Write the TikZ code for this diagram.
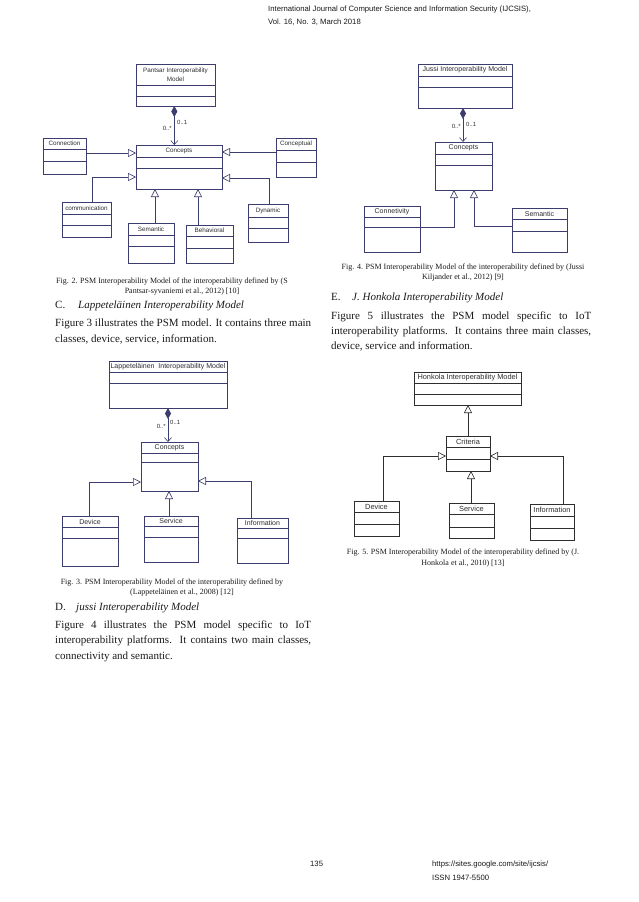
\documentclass[tikz,border=0pt]{standalone}
\usepackage{fontspec}
\setmainfont{Liberation Serif}
\newfontfamily\arialf{Liberation Sans}
\usetikzlibrary{arrows.meta}
\definecolor{umlc}{HTML}{3C3C6E}
\definecolor{umlk}{HTML}{2E2E2E}
\definecolor{txt}{HTML}{1A1A1A}
\def\clsfs{6.3}
\tikzset{
  cls/.style={draw=umlc, line width=0.6pt, inner sep=0pt, outer sep=0pt, fill=white},
  clstext/.style={font=\arialf\fontsize{\clsfs}{8.5}\selectfont, text=umlk, inner sep=0pt, align=center},
  gen/.style={draw=umlc, line width=0.6pt, -{Triangle[open, length=8pt, width=8pt, fill=white]}},
  genk/.style={gen, draw=umlk},
  comp/.style={draw=umlc, line width=0.6pt, {Diamond[length=11pt, width=6pt, fill=umlc]}-{Straight Barb[length=4pt, width=7pt]}},
  mult/.style={font=\arialf\fontsize{6}{7}\selectfont, text=umlk, inner sep=0pt},
  body/.style={font=\fontsize{11}{15.5}\selectfont, text=txt, inner sep=0pt, anchor=base west},
  figcap/.style={font=\fontsize{8}{10}\selectfont, text=txt, inner sep=0pt, anchor=base},
  hdr/.style={font=\arialf\fontsize{7.7}{10}\selectfont, text=txt, inner sep=0pt, anchor=base west},
}
% #1 colour, #2 name, #3 x1, #4 y1, #5 x2, #6 y2, #7 divider1, #8 divider2, #9 title
\newcommand\umlclass[9][umlc]{%
  \node[cls, draw=#1, minimum width={(#5-#3)*1pt}, minimum height={(#6-#4)*1pt}, anchor=north west] (#2) at (#3,#4) {};
  \draw[draw=#1, line width=0.6pt] (#3,#7) -- (#5,#7) (#3,#8) -- (#5,#8);
  \node[clstext] (#2-t) at ({(#3+#5)/2},{(#4+#7)/2}) {#9};
}
\begin{document}
\begin{tikzpicture}[x=1pt, y=-1pt]
\useasboundingbox[fill=white] (0,0) rectangle (638,902);

% ---------------- header / footer
\node[hdr] (h1) at (268,11) {International Journal of Computer Science and Information Security (IJCSIS),};
\node[hdr] (h2) at (268,24) {Vol. 16, No. 3, March 2018};
\node[hdr] (pg) at (310,866) {135};
\node[hdr] (url) at (432,866) {https://sites.google.com/site/ijcsis/};
\node[hdr] (issn) at (432,880) {ISSN 1947-5500};

% ---------------- Fig. 2
\def\clsfs{6.3}
\umlclass{p2top}{136}{64}{215}{106}{85}{96}{}
\node[clstext] (p2top-t2) at (175.5,74.5) {Pantsar Interoperability\\Model};
\umlclass{p2conc}{136}{145}{222}{189}{157}{168}{Concepts}
\umlclass{p2conn}{43}{138}{86}{174}{149}{161}{Connection}
\umlclass{p2comm}{62}{202}{111}{237}{214}{225}{communication}
\umlclass{p2sem}{128}{223}{174}{263}{235}{246}{Semantic}
\umlclass{p2beh}{186}{225}{233}{263}{236}{248}{Behavioral}
\umlclass{p2dyn}{248}{204}{288}{242}{217}{228}{Dynamic}
\umlclass{p2cpt}{276}{138}{316}{177}{150}{162}{Conceptual}
\coordinate (f2x) at (174.3,0);
\draw[comp] (p2top.south -| f2x) -- (p2conc.north -| f2x);
\node[mult, anchor=west] (f2m1) at (177,122) {0..1};
\node[mult, anchor=east] (f2m2) at (172,128) {0..*};
\coordinate (f2a) at (0,153);
\draw[gen] (p2conn.east |- f2a) -- (p2conc.west |- f2a);
\coordinate (f2b) at (92,177);
\draw[gen] (p2comm.north -| f2b) -- (f2b) -- (p2conc.west |- f2b);
\coordinate (f2c) at (155,0);
\draw[gen] (p2sem.north -| f2c) -- (p2conc.south -| f2c);
\coordinate (f2d) at (198,0);
\draw[gen] (p2beh.north -| f2d) -- (p2conc.south -| f2d);
\coordinate (f2e) at (269,178);
\draw[gen] (p2dyn.north -| f2e) -- (f2e) -- (p2conc.east |- f2e);
\coordinate (f2f) at (0,152);
\draw[gen] (p2cpt.west |- f2f) -- (p2conc.east |- f2f);

\node[figcap] (c2a) at (172,283) {Fig. 2. PSM Interoperability Model of the interoperability defined by (S};
\node[figcap] (c2b) at (182,293) {Pantsar-syvaniemi et al., 2012) [10]};

\node[body] (hC1) at (55,308.5) {C.};
\node[body] (hC2) at (78,308.5) {\itshape Lappeteläinen Interoperability Model};
\node[body] (pC1) at (55,326.5) {\makebox[256pt][s]{Figure 3 illustrates the PSM model. It contains three main}};
\node[body] (pC2) at (55,342.5) {classes, device, service, information.};

% ---------------- Fig. 3
\def\clsfs{7}
\umlclass{p3top}{109}{361}{227}{408}{372}{383}{Lappeteläinen\ \ Interoperability Model}
\umlclass{p3conc}{141}{442}{198}{491}{453}{462}{Concepts}
\umlclass{p3dev}{62}{516}{118}{566}{527}{538}{Device}
\umlclass{p3ser}{144}{516}{198}{562}{526}{537}{Service}
\umlclass{p3inf}{237}{518}{288}{563}{528}{538}{Information}
\coordinate (f3x) at (168,0);
\draw[comp] (p3top.south -| f3x) -- (p3conc.north -| f3x);
\node[mult, anchor=west] (f3m1) at (170,422) {0..1};
\node[mult, anchor=east] (f3m2) at (166,426) {0..*};
\coordinate (f3a) at (89,482);
\draw[gen] (p3dev.north -| f3a) -- (f3a) -- (p3conc.west |- f3a);
\coordinate (f3b) at (169,0);
\draw[gen] (p3ser.north -| f3b) -- (p3conc.south -| f3b);
\coordinate (f3c) at (251,481);
\draw[gen] (p3inf.north -| f3c) -- (f3c) -- (p3conc.east |- f3c);

\node[figcap] (c3a) at (172,584) {Fig. 3. PSM Interoperability Model of the interoperability defined by};
\node[figcap] (c3b) at (182,594) {(Lappeteläinen et al., 2008) [12]};

\node[body] (hD1) at (55,610.5) {D.};
\node[body] (hD2) at (76,610.5) {\itshape jussi Interoperability Model};
\node[body] (pD1) at (55,628.5) {\makebox[256pt][s]{Figure 4 illustrates the PSM model specific to IoT}};
\node[body] (pD2) at (55,643.5) {\makebox[256pt][s]{interoperability platforms. It contains two main classes,}};
\node[body] (pD3) at (55,659) {connectivity and semantic.};

% ---------------- Fig. 4
\def\clsfs{7}
\umlclass{p4top}{418}{64}{512}{108}{76}{87}{Jussi Interoperability Model}
\umlclass{p4conc}{435}{142}{492}{190}{154}{165}{Concepts}
\umlclass{p4con}{364}{206}{420}{252}{217}{227}{Connetivity}
\umlclass{p4sem}{512}{208}{567}{252}{219}{231}{Semantic}
\coordinate (f4x) at (463,0);
\draw[comp] (p4top.south -| f4x) -- (p4conc.north -| f4x);
\node[mult, anchor=west] (f4m1) at (466,124) {0..1};
\node[mult, anchor=east] (f4m2) at (461,126) {0..*};
\coordinate (f4a) at (454,227);
\draw[gen] (p4con.east |- f4a) -- (f4a) -- (p4conc.south -| f4a);
\coordinate (f4b) at (474,226);
\draw[gen] (p4sem.west |- f4b) -- (f4b) -- (p4conc.south -| f4b);

\node[figcap] (c4a) at (463,269) {Fig. 4. PSM Interoperability Model of the interoperability defined by (Jussi};
\node[figcap] (c4b) at (463,279) {Kiljander et al., 2012) [9]};

\node[body] (hE1) at (331,300.5) {E.};
\node[body] (hE2) at (352,300.5) {\itshape J. Honkola Interoperability Model};
\node[body] (pE1) at (331,319.5) {\makebox[260pt][s]{Figure 5 illustrates the PSM model specific to IoT}};
\node[body] (pE2) at (331,334.5) {\makebox[260pt][s]{interoperability platforms. It contains three main classes,}};
\node[body] (pE3) at (331,349.5) {device, service and information.};

% ---------------- Fig. 5
\def\clsfs{7.4}
\umlclass[umlk]{p5top}{414}{372}{521}{405}{383}{394}{Honkola Interoperability Model}
\umlclass[umlk]{p5crit}{446}{436}{490}{471}{447}{459}{Criteria}
\umlclass[umlk]{p5dev}{354}{501}{399}{536}{512}{524}{Device}
\umlclass[umlk]{p5ser}{449}{503}{494}{538}{514}{527}{Service}
\umlclass[umlk]{p5inf}{530}{504}{574}{540}{516}{528}{Information}
\coordinate (f5x) at (468,0);
\draw[genk] (p5crit.north -| f5x) -- (p5top.south -| f5x);
\coordinate (f5a) at (383,456);
\draw[genk] (p5dev.north -| f5a) -- (f5a) -- (p5crit.west |- f5a);
\coordinate (f5b) at (471,0);
\draw[genk] (p5ser.north -| f5b) -- (p5crit.south -| f5b);
\coordinate (f5c) at (563,456);
\draw[genk] (p5inf.north -| f5c) -- (f5c) -- (p5crit.east |- f5c);

\node[figcap] (c5a) at (463,554) {Fig. 5. PSM Interoperability Model of the interoperability defined by (J.};
\node[figcap] (c5b) at (463,565) {Honkola et al., 2010) [13]};
\end{tikzpicture}
\end{document}
